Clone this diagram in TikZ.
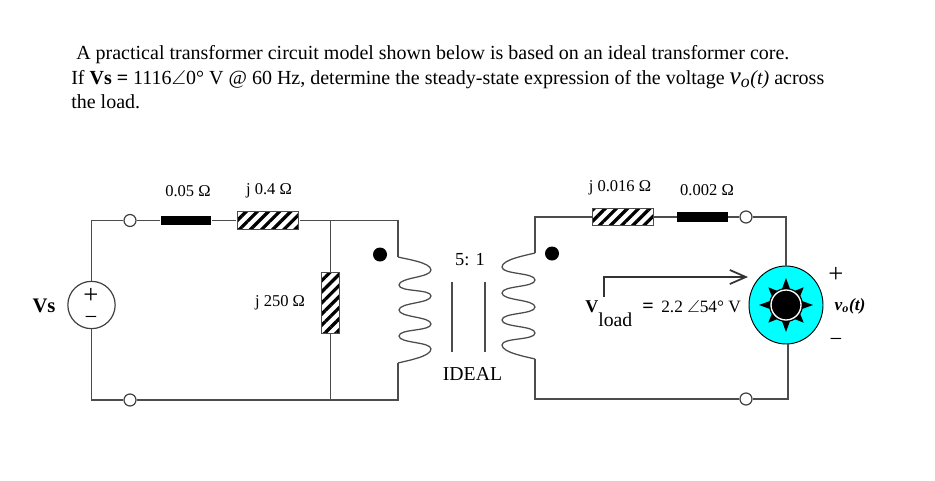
\documentclass[tikz,border=0pt]{standalone}
\usepackage{amssymb}
\usepackage{fontspec}
\setmainfont{Liberation Serif}
\usetikzlibrary{calc,arrows.meta,patterns.meta,shapes.geometric}
\newcommand{\fsz}[1]{\fontsize{#1}{#1}\selectfont}
\definecolor{loadcyan}{RGB}{0,255,255}
\tikzset{
  wire/.style={draw=black!70,line width=.95pt},
  term/.style={circle,draw=black!75,line width=.9pt,fill=white,minimum size=9pt,inner sep=0pt},
  resbar/.style={rectangle,fill=black,minimum width=38pt,minimum height=7pt,inner sep=0pt},
  hatch/.style={rectangle,draw=black!70,line width=.7pt,inner sep=0pt,
    pattern={Lines[angle=45,distance=5.9pt,line width=2.4pt]}},
  lbl/.style={inner sep=0pt,font=\fsz{12.4}},
  para/.style={anchor=base west,inner sep=0pt,font=\fsz{15}},
  coil/.style={wire,looseness=.55}
}
\begin{document}
\begin{tikzpicture}[x=.75pt,y=.75pt]
      \useasboundingbox (0,0) rectangle (935,480);

      \node[para] (line1) at (76,421) {A practical transformer circuit model shown below is based on an ideal transformer core.};
      \node[para] (line2) at (71,396) {If \textbf{Vs =} 1116$\angle$0° V @ 60 Hz, determine the steady-state expression of the voltage \textit{\fsz{19}v\textsubscript{o}\fsz{15}(t)} across};
      \node[para] (line3) at (71,372) {the load.};

      \node[circle,draw=black!75,line width=.9pt,minimum size=35.5pt,inner sep=0pt] (src) at (91.5,175) {};
      \node[lbl,font=\fsz{20}] (plus) at (91,184.5) {+};
      \node[lbl,font=\fsz{17}] (minus) at (91,159.5) {−};
      \node[lbl,font=\fsz{15.5}\bfseries] (Vs) at (44,174) {Vs};

      \node[term] (tl) at (130,259.5) {};
      \node[term] (bl) at (130,80) {};
      \node[resbar] (Rs) at (186,259.5) {};
      \node[hatch,minimum width=46pt,minimum height=13pt] (Xs) at (268,259.5) {};
      \node[hatch,minimum width=13pt,minimum height=46pt] (Xm) at (330.5,177) {};
      \node[lbl] at (188,289) {0.05 Ω};
      \node[lbl] at (269,289) {j 0.4 Ω};
      \node[lbl] at (280,177) {j 250 Ω};

      \coordinate (jt) at (330.5,259.5);
      \coordinate (jb) at (330.5,80);
      \coordinate (pt) at (398,259.5);
      \coordinate (pb) at (398,80);
      \coordinate (ca) at (398,223);
      \coordinate (cb) at (398,117);

      \draw[wire] (src.north) |- (tl);
      \draw[wire] (src.south) |- (bl);
      \draw[wire] (tl) -- (Rs);
      \draw[wire] (Rs) -- (Xs);
      \draw[wire] (Xs) -- (jt) -- (pt) -- (ca);
      \draw[wire] (bl) -- (jb) -- (pb) -- (cb);
      \draw[wire] (jt) -- (Xm);
      \draw[wire] (Xm) -- (jb);

      \draw[coil] (ca) to [out=-15,in=90] (431,210) to [out=-90,in=90] (399,195)
        to [out=-90,in=90] (431,184) to [out=-90,in=90] (399,170)
        to [out=-90,in=90] (431,156) to [out=-90,in=90] (399,144)
        to [out=-90,in=90] (431,131) to [out=-90,in=15] (cb);

      \fill (380,225.5) circle (7);
      \fill (552,226.5) circle (7);

      \node[lbl,font=\fsz{13.8}] (ratio) at (470,220) {5: 1};
      \node[lbl,font=\fsz{14.8}] (ideal) at (472.5,106) {IDEAL};
      \coordinate (c1t) at (452,198);
      \coordinate (c1b) at (452,128);
      \coordinate (c2t) at (485,198);
      \coordinate (c2b) at (485,128);
      \draw[wire] (c1t) -- (c1b);
      \draw[wire] (c2t) -- (c2b);

      \coordinate (qt) at (535,263);
      \coordinate (qb) at (535,81);
      \coordinate (da) at (535,227);
      \coordinate (db) at (535,121);

      \node[hatch,minimum width=46pt,minimum height=13pt] (Xl) at (623,263) {};
      \node[resbar] (Rl) at (702.5,263) {};
      \node[term] (tr) at (746,263) {};
      \node[term] (br) at (746,81) {};
      \node[lbl] at (620,292) {j 0.016 Ω};
      \node[lbl] at (707,290) {0.002 Ω};

      \node[ellipse,draw=black,line width=.7pt,fill=loadcyan,minimum width=55.5pt,minimum height=58.5pt,inner sep=0pt] (Load) at (786,175) {};
      \coordinate (lr) at (788,81);
      \coordinate (ls) at (788,136);

      \draw[coil] (da) to [out=195,in=90] (502,213) to [out=-90,in=90] (535,200)
        to [out=-90,in=90] (502,187) to [out=-90,in=90] (535,173)
        to [out=-90,in=90] (502,160) to [out=-90,in=90] (535,147)
        to [out=-90,in=90] (502,135) to [out=-90,in=165] (db);
      \draw[wire] (da) -- (qt) -- (Xl);
      \draw[wire] (Xl) -- (Rl);
      \draw[wire] (Rl) -- (tr);
      \draw[wire] (tr) -| (Load.north);
      \draw[wire] (br) -- (qb) -- (db);
      \draw[wire] (ls) -- (lr) -- (br);

      \begin{scope}[shift={(Load)}]
        \fill circle (17);
        \foreach \a/\r in {0/27,90/27,180/27,270/27,45/25,135/25,225/25,315/25}
          \fill (\a:\r) -- (\a+18:15) -- (\a-18:15) -- cycle;
        \draw[white,line width=1pt] circle (15);
        \fill circle (13.5);
      \end{scope}

      \coordinate (as) at (604,183);
      \coordinate (ae) at (748,203);
      \draw[draw=black!80,line width=.9pt,-{Straight Barb[length=12pt,width=10.5pt,line width=1.3pt]}] (as) |- (ae);

      \node[lbl,font=\fsz{13.5}\bfseries,anchor=base west] (V) at (585,168) {V};
      \node[lbl,font=\fsz{14.8},anchor=base west] (load) at (598,154) {load};
      \node[lbl,font=\fsz{15}\bfseries,anchor=base west] (eq) at (642,168) {=};
      \node[lbl,font=\fsz{13},anchor=base west] (val) at (661,168) {2.2 $\angle$54° V};

      \node[lbl,font=\fsz{20}] (pl) at (836,205) {+};
      \node[lbl,font=\fsz{17}] (mi) at (836,138) {−};
      \node[lbl,font=\fsz{13}\bfseries\itshape] (vo) at (850,174) {v\textsubscript{o}(t)};
    \end{tikzpicture}
\end{document}
